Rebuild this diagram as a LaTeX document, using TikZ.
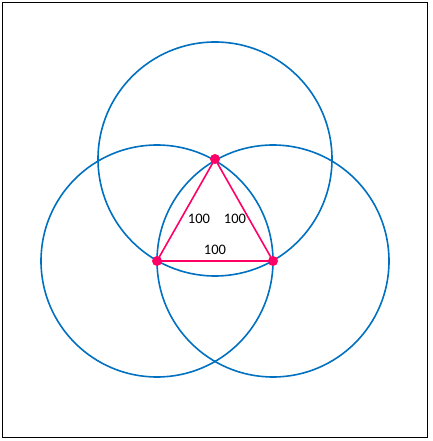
\documentclass[tikz,border=0pt]{standalone}
\usepackage{fontspec}
\setmainfont{Carlito}
\usetikzlibrary{positioning,calc}
\definecolor{ringBlue}{RGB}{0,112,192}
\definecolor{sidePink}{RGB}{255,0,102}
\begin{document}
\begin{tikzpicture}[x=1pt,y=1pt,font=\fontsize{14.5}{17}\selectfont,
    ring/.style={ringBlue, line width=1.6pt},
    side/.style={sidePink, line width=1.6pt},
    vertex/.style={circle, fill=sidePink, inner sep=0pt, minimum size=10pt}]
    \useasboundingbox (0,0) rectangle (432,441);
    \draw[line width=1pt] (2.5,3) rectangle (427.5,438.5);

    \coordinate (leftNode) at (157,180);
    \coordinate (rightNode) at (273,180);
    \coordinate (topNode) at (215,282);

    \draw[ring] (leftNode) circle (116);
    \draw[ring] (rightNode) circle (116);
    \draw[ring] (topNode) circle (117);

    \draw[side] (leftNode) -- (rightNode) -- (topNode) -- cycle;

    \node[vertex] (leftDot) at (leftNode) {};
    \node[vertex] (rightDot) at (rightNode) {};
    \node[vertex] (topDot) at (topNode) {};

    \node (leftLabel) at (199,222) {100};
    \node (rightLabel) at (235,222) {100};
    \node (baseLabel) at (215,191) {100};
\end{tikzpicture}
\end{document}
